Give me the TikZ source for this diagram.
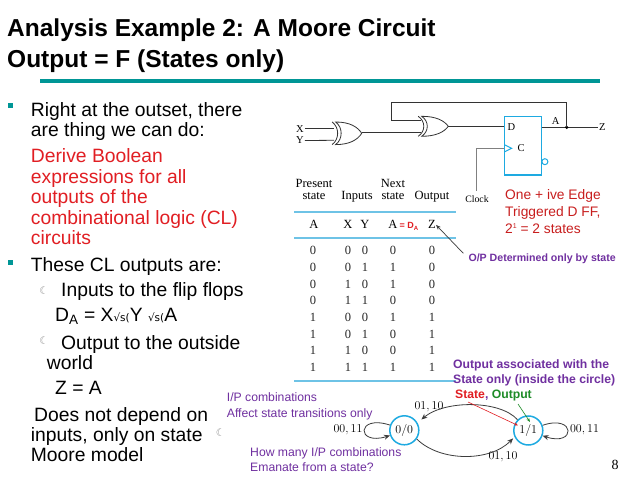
\documentclass[tikz,border=0pt]{standalone}
\usepackage{fontspec}
\setmainfont{Liberation Sans}
\newfontfamily\timesf{Liberation Serif}
\newfontfamily\dejavu{DejaVu Sans}
\usetikzlibrary{arrows.meta}
\definecolor{teal1}{RGB}{0,150,150}
\definecolor{red1}{RGB}{225,30,35}
\definecolor{red2}{RGB}{200,30,30}
\definecolor{purp}{RGB}{112,48,160}
\definecolor{grn}{RGB}{30,140,40}
\definecolor{blu}{RGB}{30,170,225}
\definecolor{tblu}{RGB}{110,195,230}
\definecolor{gry}{RGB}{60,60,60}
\newcommand\xorshape[4]{%
 \draw[gate] (#1,#2-#4) .. controls (#1+0.55*#3,#2-#4) and (#1+0.85*#3,#2-0.55*#4) .. (#1+#3,#2)
   .. controls (#1+0.85*#3,#2+0.55*#4) and (#1+0.55*#3,#2+#4) .. (#1,#2+#4)
   .. controls (#1+0.28*#3,#2+0.5*#4) and (#1+0.28*#3,#2-0.5*#4) .. cycle;
 \draw[gate] (#1-3.5,#2-#4) .. controls (#1-3.5+0.28*#3,#2-0.5*#4) and (#1-3.5+0.28*#3,#2+0.5*#4) .. (#1-3.5,#2+#4);}
\begin{document}
\begin{tikzpicture}[x=1pt,y=-1pt,
  title/.style={font=\fontsize{24.5}{28}\selectfont\bfseries, anchor=base west, inner sep=0pt},
  body/.style={font=\fontsize{19.3}{21}\selectfont, anchor=base west, inner sep=0pt},
  moon/.style={font=\dejavu\fontsize{10.5}{10.5}\selectfont, text=gray!85, inner sep=0pt},
  bsq/.style={fill=teal1, minimum size=5pt, inner sep=0pt},
  gate/.style={draw=black!80, line width=0.8pt},
  wire/.style={draw=black!80, line width=0.8pt},
  clab/.style={font=\timesf\fontsize{10.5}{11}\selectfont, inner sep=1pt},
  th/.style={font=\timesf\fontsize{12.5}{13}\selectfont, anchor=base, inner sep=0pt},
  td/.style={font=\timesf\fontsize{12.5}{13}\selectfont, anchor=base, inner sep=0pt, text=black!85},
  tline/.style={draw=tblu, line width=1.2pt},
  note/.style={font=\fontsize{13.8}{15}\selectfont, text=red2, anchor=base west, inner sep=0pt},
  pnote/.style={font=\fontsize{12.2}{13}\selectfont, text=purp, anchor=base west, inner sep=0pt},
  bnote/.style={font=\fontsize{12.2}{13}\selectfont\bfseries, text=purp, anchor=base west, inner sep=0pt},
  state/.style={circle, draw=blu, line width=1.5pt, minimum size=29pt, inner sep=0pt, font=\fontsize{12}{12}\selectfont},
  slab/.style={font=\fontsize{12}{12}\selectfont, inner sep=0pt},
  arr/.style={-{Stealth[length=6pt,width=5pt]}, draw=gry, line width=0.8pt}]
\useasboundingbox (0,0) rectangle (638,478);
\fill[white] (0,0) rectangle (638,478);

% title
\node[title] (t1) at (7,37) {Analysis Example 2: A Moore Circuit};
\node[title] (t2) at (7,68) {Output = F (States only)};
\fill[teal1] (40,79) rectangle (600,83.3);

% left text
\node[bsq] (b1) at (10.5,105.8) {};
\node[body] (l1) at (30.7,116.7) {Right at the outset, there};
\node[body] (l2) at (30.7,137) {are thing we can do:};
\node[body, text=red1] (l3) at (30.7,162.7) {Derive Boolean};
\node[body, text=red1] (l4) at (30.7,183.3) {expressions for all};
\node[body, text=red1] (l5) at (30.7,204) {outputs of the};
\node[body, text=red1] (l6) at (30.7,224.3) {combinational logic (CL)};
\node[body, text=red1] (l7) at (30.7,245) {circuits};
\node[bsq] (b2) at (10.5,262.5) {};
\node[body] (l8) at (30.7,271.7) {These CL outputs are:};
\node[moon] (m1) at (44,290.5) {☾};
\node[body] (l9) at (61,296.7) {Inputs to the flip flops};
\node[body] (l10) at (55,321.7) {D\textsubscript{A} = X{\dejavu\fontsize{10.5}{10}\selectfont √s(}Y {\dejavu\fontsize{10.5}{10}\selectfont √s(}A};
\node[moon] (m2) at (44,340.5) {☾};
\node[body] (l11) at (61,350) {Output to the outside};
\node[body] (l12) at (46.7,370) {world};
\node[body] (l13) at (55,395) {Z = A};
\node[body] (l14) at (34,421.7) {Does not depend on};
\node[body] (l15) at (30.7,441.7) {inputs, only on state};
\node[moon] (m3) at (220.5,433) {☾};
\node[body] (l16) at (30.7,461.7) {Moore model};

% circuit
\xorshape{335.7}{133.3}{26}{11.3}
\xorshape{421.7}{126.3}{26.6}{10}
\node[clab] (xl) at (300,128.7) {X};
\node[clab] (yl) at (300,140.5) {Y};
\coordinate (g1a) at (334,128.7);
\coordinate (g1b) at (334,140.3);
\coordinate (g1o) at (361.7,132.5);
\coordinate (g2a) at (420.5,120.7);
\coordinate (g2b) at (420.5,132.5);
\coordinate (g2o) at (448.3,126.3);
\draw[wire] (xl.east) -- (g1a);
\draw[wire] (yl.east) -- (g1b);
\draw[wire] (g1o) -- (g2b);
\node[draw=blu, line width=1.2pt, minimum width=37.4pt, minimum height=58.3pt, inner sep=0pt] (ff) at (523,145.85) {};
\coordinate (din) at (504.3,126.3);
\draw[wire] (g2o) -- (din);
\node[clab] (dl) at (511.5,127.3) {D};
\node[clab] (cl) at (521,148.3) {C};
\draw[draw=blu, line width=1pt] (504.3,144.6) -- (511.7,148.3) -- (504.3,152);
\node[circle, draw=blu, line width=1pt, minimum size=6pt, inner sep=0pt] (bub) at (544.9,161.7) {};
\coordinate (qout) at (541.7,127.3);
\coordinate (junc) at (566.7,127.3);
\node[clab] (zl) at (602.3,127.3) {Z};
\node[clab] (al) at (555.7,121.5) {A};
\draw[wire] (qout) -- (zl.west);
\fill[black] (junc) circle (1.8pt);
\coordinate (fbl) at (391.7,102.3);
\draw[wire] (junc) |- (fbl) |- (g2a);
\coordinate (ckin) at (504.3,148.3);
\node[clab, font=\timesf\fontsize{9.8}{10}\selectfont] (clk) at (477,199) {Clock};
\coordinate (ckend) at (476,191);
\draw[wire, draw=gray] (ckin) -| (ckend);

% table
\node[th] (h1) at (314,187.5) {Present};
\node[th] (h2) at (314,200) {state};
\node[th] (h3) at (357,200) {Inputs};
\node[th] (h4) at (393,187.5) {Next};
\node[th] (h5) at (393,200) {state};
\node[th] (h6) at (432,200) {Output};
\coordinate (tl1a) at (294,212); \coordinate (tl1b) at (456,212);
\draw[tline] (tl1a) -- (tl1b);
\node[th] (ca) at (314,229) {A};
\node[th] (cx) at (348,229) {X};
\node[th] (cy) at (365,229) {Y};
\node[th] (cn) at (393,229) {A};
\node[font=\fontsize{9}{9}\selectfont\bfseries, text=red1, anchor=base west, inner sep=0pt] (cd) at (399.5,229) {= D\textsubscript{A}};
\node[th] (cz) at (432,229) {Z};
\coordinate (tl2a) at (294,238); \coordinate (tl2b) at (456,238);
\draw[tline] (tl2a) -- (tl2b);
\foreach \a/\x/\y/\n/\z [count=\i] in {0/0/0/0/0,0/0/1/1/0,0/1/0/1/0,0/1/1/0/0,1/0/0/1/1,1/0/1/0/1,1/1/0/0/1,1/1/1/1/1}{
  \node[td] (ra\i) at (313,255+16.65*\i-16.65) {\a};
  \node[td] (rx\i) at (348,255+16.65*\i-16.65) {\x};
  \node[td] (ry\i) at (365,255+16.65*\i-16.65) {\y};
  \node[td] (rn\i) at (393,255+16.65*\i-16.65) {\n};
  \node[td] (rz\i) at (432,255+16.65*\i-16.65) {\z};
}
\coordinate (tl3a) at (294,381); \coordinate (tl3b) at (456,381);
\draw[tline] (tl3a) -- (tl3b);

% notes
\node[note] (n1) at (505,200) {One + ive Edge};
\node[note] (n2) at (505,216.7) {Triggered D FF,};
\node[note] (n3) at (505,233.3) {2{\fontsize{7}{7}\selectfont\raisebox{4.5pt}{1}} = 2 states};
\node[font=\fontsize{10.6}{11}\selectfont\bfseries, text=purp, anchor=base west, inner sep=0pt] (op) at (468.3,262) {O/P Determined only by state};
\coordinate (opa) at (463.3,253.3);
\draw[-{Stealth[length=5pt,width=4pt]}, draw=gry, line width=0.7pt] (opa) -- (cz.east);
\node[bnote] (o1) at (453,368.7) {Output associated with the};
\node[bnote] (o2) at (453,383.7) {State only (inside the circle)};
\node[bnote] (o3) at (455,398.4) {\textcolor{red1}{State}, \textcolor{grn}{Output}};
\node[pnote] (i1) at (226.7,401.7) {I/P combinations};
\node[pnote] (i2) at (226.7,417.7) {Affect state transitions only};
\node[pnote] (i3) at (250,457) {How many I/P combinations};
\node[pnote] (i4) at (250,471.7) {Emanate from a state?};

% state diagram
\node[state] (s0) at (404.3,430.3) {$0/0$};
\node[state] (s1) at (528.3,430.5) {$1/1$};
\draw[arr, shorten >=5pt] (s1.135) .. controls (500,400) and (445,400) .. (s0.30);
\draw[arr, shorten >=2pt] (s0.-35) .. controls (440,462) and (490,462) .. (s1.-155);
\draw[arr] (s0.160) .. controls (356,414) and (356,446) .. (s0.200);
\draw[arr] (s1.20) .. controls (576,414) and (576,447) .. (s1.-20);
\node[slab] (e1) at (429,406.7) {$01, 10$};
\node[slab] (e2) at (503,456.7) {$01, 10$};
\node[slab] (e3) at (348,430) {$00, 11$};
\node[slab] (e4) at (584.5,430) {$00, 11$};
\coordinate (rs) at (468,402);
\coordinate (rt) at (518,425.5);
\draw[-{Stealth[length=4pt,width=3pt]}, draw=red1, line width=0.6pt] (rs) -- (rt);
\coordinate (gs) at (518,404);
\coordinate (gt) at (530,422);
\draw[-{Stealth[length=4pt,width=3pt]}, draw=grn, line width=0.6pt] (gs) -- (gt);
\node[font=\timesf\fontsize{14}{14}\selectfont, inner sep=0pt] (pg) at (615,465) {8};
\end{tikzpicture}
\end{document}
